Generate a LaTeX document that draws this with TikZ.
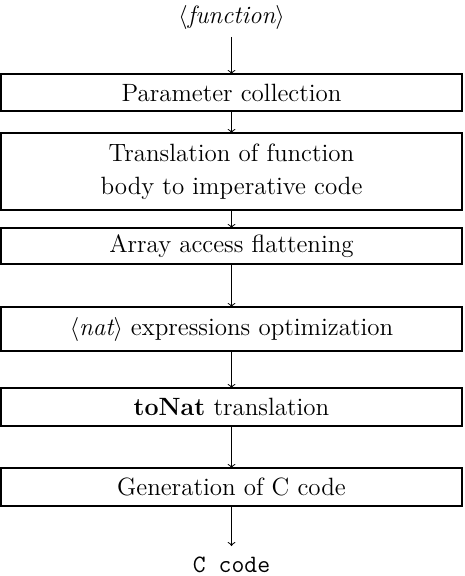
\documentclass[tikz,border=0pt]{standalone}
\usepackage{amsmath}
\usepackage{tikz}
\usetikzlibrary{positioning}

\begin{document}
\begin{tikzpicture}[->,line width=0.5pt,
	font=\fontsize{12.5pt}{16.5pt}\selectfont,
	stage node/.style={draw,line width=0.8pt,minimum width=230.5pt,inner ysep=0pt,outer sep=0pt,align=center},
	io node/.style={inner xsep=0pt,inner ysep=3.5pt}]

	\useasboundingbox (0,0) rectangle (232pt,-288pt);

	\node[stage node,minimum height=18.5pt] (1) at (115.75pt,-46.25pt) {Parameter collection};
	\node[stage node,minimum height=38.5pt] (2) [below=11pt of 1] {Translation of function\\body to imperative code};
	\node[stage node,minimum height=18pt] (3) [below=9pt of 2] {Array access flattening};
	\node[stage node,minimum height=22pt] (4) [below=21.5pt of 3] {$\langle\textit{nat}\rangle$ expressions optimization};
	\node[stage node,minimum height=19pt] (5) [below=18.5pt of 4] {\textbf{toNat} translation};
	\node[stage node,minimum height=19pt] (6) [below=21pt of 5] {Generation of C code};

	\node[io node] (in) [above=18.5pt of 1] {$\langle\textit{function}\rangle$};
	\node[io node,inner ysep=5pt] (out) [below=20pt of 6] {\texttt{C code}};

	\path
	(in) edge (1)
	(1) edge (2)
	(2) edge (3)
	(3) edge (4)
	(4) edge (5)
	(5) edge (6)
	(6) edge (out);
\end{tikzpicture}
\end{document}
